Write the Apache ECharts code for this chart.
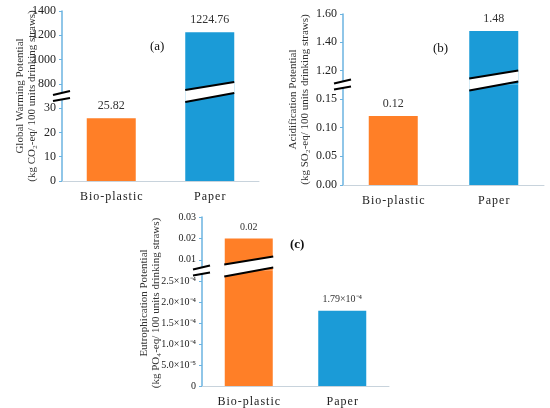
<!DOCTYPE html>
<html><head><meta charset="utf-8">
<script src="https://cdn.jsdelivr.net/npm/echarts@6/dist/echarts.min.js"></script>
<style>html,body{margin:0;background:#fff}#c{width:550px;height:408px}</style>
</head><body><div id="c"></div>
<script>
// Broken-axis bar charts: each panel = lower grid + upper grid
const categories = ['Bio-plastic', 'Paper'];
const gwpValues = [25.82, 1224.76];
const gwpLabels = ['25.82', '1224.76'];
const apValues = [0.12, 1.48];
const apLabels = ['0.12', '1.48'];
const epValues = [0.02, 0.000179];
const epLabels = ['0.02', '1.79×10⁻⁴'];
const gwpTicksLow = [0, 10, 20, 30], gwpTicksHigh = [800, 1000, 1200, 1400];
const apTicksLow = [0, 0.05, 0.1, 0.15], apTicksHigh = [1.2, 1.4, 1.6];
const epTicksLow = [0, 0.00005, 0.0001, 0.00015, 0.0002, 0.00025], epTicksHigh = [0.01, 0.02, 0.03];
const epTickText = {0:'0', 0.00005:'5.0×10⁻⁵', 0.0001:'1.0×10⁻⁴', 0.00015:'1.5×10⁻⁴', 0.0002:'2.0×10⁻⁴', 0.00025:'2.5×10⁻⁴', 0.01:'0.01', 0.02:'0.02', 0.03:'0.03'};

const FONT = 'Liberation Serif';
const AXIS_BLUE = '#6BB3E0';
const COLORS = ['#FF7F27', '#1B9BD7'];

const panels = [
  {left: 62, right: 259, top: 11, join: 96, bottom: 181, hi: [700, 1400], lo: [0, 35], tHi: gwpTicksHigh, tLo: gwpTicksLow,
   vals: gwpValues, labs: gwpLabels, fmt: v => String(v), upperIdx: [1], name: ['Global Warming Potential', '(kg CO₂-eq/ 100 units drinking straws)'], nameX: 26, tag: '(a)', tagPos: [150, 40]},
  {left: 343, right: 544, top: 14, join: 84.5, bottom: 185, hi: [1.1, 1.6], lo: [0, 0.175], tHi: apTicksHigh, tLo: apTicksLow,
   vals: apValues, labs: apLabels, fmt: v => v.toFixed(2), upperIdx: [1], name: ['Acidification Potential', '(kg SO₂-eq/ 100 units drinking straws)'], nameX: 299, tag: '(b)', tagPos: [433, 42]},
  {left: 202, right: 389, top: 217, join: 270.5, bottom: 389, hi: [0.005, 0.03], lo: [0, 0.000275], tHi: epTicksHigh, tLo: epTicksLow,
   vals: epValues, labs: epLabels, fmt: v => epTickText[v], upperIdx: [0], name: ['Eutrophication Potential', '(kg PO₄-eq/ 100 units drinking straws)'], nameX: 150, tag: '(c)', tagPos: [290, 238]}
];

const grid = [], xAxis = [], yAxis = [], series = [], graphic = [];
panels.forEach((p, i) => {
  grid.push({left: p.left, width: p.right - p.left, top: p.join, height: p.bottom - p.join});
  grid.push({left: p.left, width: p.right - p.left, top: p.top, height: p.join - p.top});
  const gi = i * 2;
  xAxis.push({gridIndex: gi, type: 'category', data: categories,
    axisLine: {lineStyle: {color: '#C8D3DC'}}, axisTick: {show: false},
    axisLabel: {fontFamily: FONT, fontSize: 12, color: '#222', margin: 10, formatter: v => v.split('').join('\u200A')}});
  xAxis.push({gridIndex: gi + 1, type: 'category', data: categories, show: false});
  const yBase = {type: 'value', splitLine: {show: false},
    axisLine: {show: true, lineStyle: {color: AXIS_BLUE, width: 1.5}},
    axisTick: {show: true, length: 3, lineStyle: {color: AXIS_BLUE}},
    axisLabel: {fontFamily: FONT, fontSize: i === 2 ? 10 : 12, color: '#222', margin: 6, formatter: p.fmt}};
  yAxis.push(Object.assign({}, yBase, {gridIndex: gi, min: p.lo[0], max: p.lo[1],
    axisTick: Object.assign({}, yBase.axisTick, {customValues: p.tLo}),
    axisLabel: Object.assign({}, yBase.axisLabel, {customValues: p.tLo})}));
  yAxis.push(Object.assign({}, yBase, {gridIndex: gi + 1, min: p.hi[0], max: p.hi[1],
    axisTick: Object.assign({}, yBase.axisTick, {customValues: p.tHi}),
    axisLabel: Object.assign({}, yBase.axisLabel, {customValues: p.tHi})}));
  const label = {show: true, position: 'top', fontFamily: FONT, fontSize: i === 2 ? 10 : 12, color: '#333', distance: 6,
    formatter: prm => p.labs[prm.dataIndex]};
  series.push({type: 'bar', xAxisIndex: gi, yAxisIndex: gi, barWidth: i === 2 ? 48 : 49, clip: true,
    data: p.vals.map((v, k) => ({value: v, itemStyle: {color: COLORS[k]},
      label: p.upperIdx.includes(k) ? {show: false} : label})), label: label});
  series.push({type: 'bar', xAxisIndex: gi + 1, yAxisIndex: gi + 1, barWidth: i === 2 ? 48 : 49, clip: true,
    data: p.vals.map((v, k) => p.upperIdx.includes(k) ? {value: v, itemStyle: {color: COLORS[k]}, label: label} : '-')});
  graphic.push({type: 'text', x: p.nameX, y: (p.top + p.bottom) / 2, rotation: Math.PI / 2,
    style: {text: p.name.join('\n'), font: '11px ' + FONT, fill: '#333', align: 'center', verticalAlign: 'middle', lineHeight: 12}});
  graphic.push({type: 'text', x: p.tagPos[0], y: p.tagPos[1],
    style: {text: p.tag, font: (i === 2 ? 'bold ' : '') + '13px ' + FONT, fill: '#111'}});
});

const chart = echarts.init(document.getElementById('c'));
chart.setOption({animation: false, grid, xAxis, yAxis, series, graphic});

// break marks: slanted white band across the tall bar + double slash on the axis
panels.forEach((p, i) => {
  const k = p.upperIdx[0];
  const cx = chart.convertToPixel({xAxisIndex: i * 2}, categories[k]);
  const hw = 24.5, j = p.join;
  const x0 = cx - hw, x1 = cx + hw;
  const up = [[x0, j - 6], [x1, j - 14]], dn = [[x0, j + 6], [x1, j - 3]];
  graphic.push({type: 'polygon', z: 100, shape: {points: [up[0], up[1], dn[1], dn[0]]}, style: {fill: '#fff'}});
  graphic.push({type: 'line', z: 101, shape: {x1: up[0][0], y1: up[0][1], x2: up[1][0], y2: up[1][1]}, style: {stroke: '#000', lineWidth: 2}});
  graphic.push({type: 'line', z: 101, shape: {x1: dn[0][0], y1: dn[0][1], x2: dn[1][0], y2: dn[1][1]}, style: {stroke: '#000', lineWidth: 2}});
  const ax = p.left;
  graphic.push({type: 'polygon', z: 100, shape: {points: [[ax - 9, j - 1], [ax + 8, j - 5], [ax + 8, j + 2], [ax - 9, j + 5]]}, style: {fill: '#fff'}});
  graphic.push({type: 'line', z: 101, shape: {x1: ax - 9, y1: j - 1, x2: ax + 8, y2: j - 5}, style: {stroke: '#000', lineWidth: 2}});
  graphic.push({type: 'line', z: 101, shape: {x1: ax - 9, y1: j + 5, x2: ax + 8, y2: j + 2}, style: {stroke: '#000', lineWidth: 2}});
});
chart.setOption({graphic});
</script></body></html>
